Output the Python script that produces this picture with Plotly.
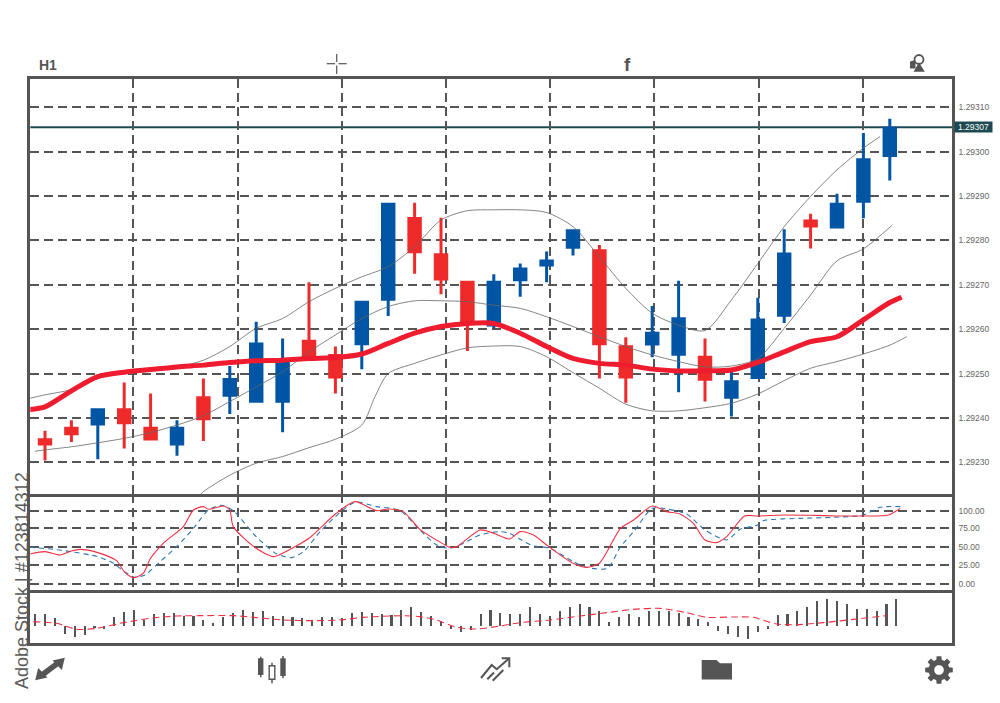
import math
import plotly.graph_objects as go

# prices are stored as points above 1.29 (235.4 -> 1.29235)
candle_open = [235.4, 238.0, 238.3, 242.2, 238.0, 233.8, 244.9, 244.8, 243.4, 243.4, 257.6, 254.4, 256.4, 266.4, 285.3, 277.1, 270.9,
               260.6, 270.8, 274.1, 278.1, 278.0, 256.4, 256.3, 254.0, 254.0, 244.3, 248.8, 262.8, 284.7, 282.7, 288.5, 298.8]
candle_high = [237.1, 239.5, 242.2, 248.0, 245.5, 239.5, 248.9, 251.7, 261.7, 257.9, 270.6, 256.1, 266.4, 288.5, 288.5, 285.1, 270.9,
               272.4, 274.8, 277.5, 282.5, 279.0, 258.2, 265.2, 270.9, 257.9, 250.4, 267.1, 282.5, 286.0, 290.5, 304.2, 307.4]
candle_low = [230.4, 234.6, 230.7, 233.1, 234.9, 231.5, 234.8, 240.9, 243.4, 236.8, 253.4, 245.5, 251.0, 263.0, 272.5, 267.9, 255.1,
              260.2, 267.3, 270.6, 276.6, 248.9, 243.4, 253.7, 245.8, 243.7, 240.3, 248.8, 261.4, 278.2, 282.7, 285.0, 293.5]
candle_close = [233.8, 236.1, 242.2, 238.6, 234.9, 238.0, 239.5, 249.0, 257.0, 253.0, 253.4, 248.9, 266.4, 288.5, 277.1, 271.0, 260.9,
                270.9, 273.9, 275.7, 282.5, 256.4, 248.9, 259.4, 262.7, 248.4, 248.5, 262.4, 277.3, 282.9, 288.5, 298.5, 305.6]

ma_x = [-0.6] + list(range(33)) + [32.45]
ma_y = [241.9, 242.5, 246.1, 249.3, 250.3, 250.9, 251.5, 251.9, 252.5, 252.9, 253.0, 253.4, 253.6, 254.4, 256.8, 259.1, 260.6, 261.3,
        261.3, 259.1, 256.1, 253.4, 252.3, 251.9, 251.0, 250.6, 250.6, 250.8, 252.5, 254.9, 257.2, 258.3, 262.1, 266.0, 267.2]

upper_x = [-0.6] + list(range(32)) + [31.63]
upper_y = [244.4, 245.2, 246.4, 248.9, 250.3, 250.9, 251.5, 253.0, 256.1, 260.2, 262.4, 266.2, 269.2, 271.8, 274.1, 278.6, 284.6, 286.7,
           286.9, 286.9, 286.3, 283.1, 276.3, 269.2, 263.6, 260.9, 259.7, 266.6, 274.8, 283.1, 289.9, 295.9, 300.8, 303.4]
mid_x = [-0.38] + list(range(32)) + [32.1]
mid_y = [232.5, 232.8, 233.5, 234.4, 235.4, 236.7, 238.4, 240.5, 243.7, 247.0, 250.4, 254.9, 258.7, 262.4, 265.1, 266.4, 266.4, 266.2,
         265.4, 264.7, 262.8, 260.6, 258.3, 256.1, 254.2, 252.7, 251.5, 251.7, 253.4, 260.2, 267.7, 275.4, 278.1, 283.5]
lower_x = [5.87] + list(range(6, 13)) + [12.5] + list(range(13, 33)) + [32.64]
lower_y = [222.6, 223.4, 227.1, 229.8, 231.3, 233.3, 235.2, 238.4, 244.8, 250.0, 252.3, 254.2, 255.8, 256.2, 256.1, 253.8, 250.2, 246.7, 243.1,
           241.6, 241.6, 242.3, 243.3, 245.4, 248.4, 251.2, 252.7, 254.4, 256.4, 258.3]

stoch_k_x = [-0.57, 0, 0.57, 1, 1.33, 2, 2.71, 3, 3.35, 3.72, 4, 4.48, 5.24, 5.62, 6, 6.19, 6.76, 7, 7.13, 8, 8.65, 9, 10, 11, 11.74,
             12.56, 13, 13.57, 14.2, 15, 15.34, 15.6, 16.48, 17, 17.6, 18, 18.5, 19, 20, 20.5, 21, 21.8, 22.3, 23, 23.55, 24.05, 24.56,
             25, 25.44, 25.82, 26.5, 27, 28, 29, 30, 31, 31.95, 32.4]
stoch_k = [40.2, 43.3, 38.8, 44.2, 46.4, 42, 31.2, 16.5, 8.5, 14.3, 34.4, 54.5, 76.8, 99.1, 103.6, 100, 104.5, 99.1, 76.8, 47.8, 36.6,
           41.1, 61.2, 93.7, 110.3, 98.2, 100.4, 96.9, 73.2, 55.4, 49.1, 50, 72.3, 67.9, 60.3, 70.1, 65.6, 52.2, 27.7, 22.3, 27.7, 74.5,
           85.7, 104.5, 96.9, 93.7, 81.2, 58.9, 55.4, 63.4, 91.1, 91.1, 92.4, 92, 91.1, 91.1, 92.4, 101.3]
stoch_d_x = [-0.57, 0.32, 1, 2, 2.59, 3, 3.41, 3.79, 4.36, 4.99, 5.62, 6.19, 6.69, 7.13, 8, 8.78, 9.34, 9.79, 10.42, 11, 11.74, 12.56,
             13.45, 14.2, 14.84, 15.34, 15.85, 16.48, 17.24, 17.6, 18, 18.5, 19.13, 20, 20.5, 21.3, 21.8, 22.3, 23, 23.55, 24.3, 25, 25.82,
             26.33, 27, 27.21, 28.6, 29.86, 31, 31.63, 32.4]
stoch_d = [49.1, 46.4, 43.3, 36.6, 27.7, 16.5, 8.9, 12.1, 29.9, 50, 74.5, 99.1, 105.4, 98.2, 63.4, 40.2, 35.3, 43.3, 70.1, 90.2, 109.4,
           103.6, 98.2, 72.3, 52.2, 47.8, 54.5, 65.6, 70.1, 67.9, 59.8, 50.9, 47.8, 29.9, 22.3, 21, 50, 70.1, 101.3, 100.4, 93.7, 72.3,
           58.9, 73.2, 79, 84.8, 87.9, 89.3, 92.4, 102.7, 103.6]

macd_hist = [36, 36, 23, -25, -32, -28, -7, -8, 28, 43, 48, 18, 36, 38, 40, 30, 30, 18, 8, 28, 40, 48, 43, 45, 30, 30, 28, 23, 16, 26,
             28, 23, 38, 41, 40, 36, 33, 48, 56, 41, 30, 16, -10, -17, -12, 36, 48, 38, 35, 36, 56, 36, 31, 46, 56, 66, 58, 44, 12, 28,
             36, 26, 46, 46, 46, 40, 28, 21, 12, -14, -24, -32, -40, -18, -10, 33, 36, 45, 56, 74, 80, 74, 66, 50, 50, 45, 65, 80]
macd_sig_x = [-0.44, 0.44, 1.2, 1.96, 2.84, 3.41, 4.17, 4.99, 5.87, 7.13, 7.89, 9.03, 10.16, 11.17, 12.06, 13.57, 14.2, 14.84, 15.6,
              16.35, 17.24, 17.99, 19.13, 20.27, 21.28, 22.29, 23.3, 24.3, 25.06, 26.07, 26.83, 27.71, 28.47, 29.48, 30.62, 31.88]
macd_sig = [13, 8, -10, -7, 8, 16, 25, 30, 31, 31, 26, 18, 16, 18, 26, 31, 28, 18, -4, -9, 0, 10, 18, 30, 40, 50, 53, 40, 26, 27, 26, 6,
            4, 10, 20, 31]

price_ticks = [1.2923, 1.2924, 1.2925, 1.2926, 1.2927, 1.2928, 1.2929, 1.2930, 1.2931]
stoch_ticks = [0, 25, 50, 75, 97.8]
stoch_labels = ["0.00", "25.00", "50.00", "75.00", "100.00"]
last_level = 305.5
last_label = "1.29307"

W, H = 1000, 703
GREY = "#555555"
RED = "#ee2b2a"
BLUE = "#0055a5"
WICK = 3
# the candle outline sits on the body edge, pull it in by half a stroke (in points)
inset = (WICK / 2) / 4.4375


def price(vals):
    return [1.29 + v * 1e-5 for v in vals]


def px(x):
    return x / W


def py(y):
    return 1 - y / H


def path(points, close=False):
    s = "M" + " L".join("{0:.5f},{1:.5f}".format(px(a), py(b)) for a, b in points)
    return s + " Z" if close else s


def poly(points, color=GREY):
    return dict(type="path", xref="paper", yref="paper", path=path(points, True), fillcolor=color, line_width=0)


def stroke(points, width=2, color=GREY):
    return dict(type="path", xref="paper", yref="paper", path=path(points), line=dict(color=color, width=width))


def gear(cx, cy, r_out, r_in, r_hole, teeth=8):
    pts = []
    for t in range(teeth):
        a = 2 * math.pi * t / teeth
        for da, r in [(-0.26, r_in), (-0.17, r_out), (0.17, r_out), (0.26, r_in)]:
            pts.append((cx + r * math.cos(a + da), cy + r * math.sin(a + da)))
    hole = [(cx + r_hole * math.cos(2 * math.pi * k / 24), cy + r_hole * math.sin(2 * math.pi * k / 24)) for k in range(24)]
    return dict(type="path", xref="paper", yref="paper", path=path(pts, True) + " " + path(hole, True),
                fillcolor=GREY, fillrule="evenodd", line_width=0)


fig = go.Figure()

for bx, by in [(upper_x, upper_y), (mid_x, mid_y), (lower_x, lower_y)]:
    fig.add_trace(go.Scatter(x=bx, y=price(by), mode="lines", line=dict(color="#666666", width=0.8, shape="spline", smoothing=0.8)))

drawn_open = [o + inset if c > o else o - inset for o, c in zip(candle_open, candle_close)]
drawn_close = [c - inset if c > o else c + inset for o, c in zip(candle_open, candle_close)]
fig.add_trace(go.Candlestick(x=list(range(33)), open=price(drawn_open), high=price(candle_high),
                             low=price(candle_low), close=price(drawn_close),
                             increasing=dict(line=dict(color=BLUE, width=WICK), fillcolor=BLUE),
                             decreasing=dict(line=dict(color=RED, width=WICK), fillcolor=RED)))

fig.add_trace(go.Scatter(x=ma_x, y=price(ma_y), mode="lines", line=dict(color="#ee1c2e", width=5, shape="spline", smoothing=0.8)))

fig.add_trace(go.Scatter(x=stoch_d_x, y=stoch_d, xaxis="x2", yaxis="y2", mode="lines",
                         line=dict(color="#2a76b8", width=1.1, dash="5px,4px", shape="spline", smoothing=0.7)))
fig.add_trace(go.Scatter(x=stoch_k_x, y=stoch_k, xaxis="x2", yaxis="y2", mode="lines",
                         line=dict(color="#f03040", width=1.1, shape="spline", smoothing=0.7)))

# 8 histogram bars for every 3 candles
macd_x = [-0.353 + 0.375 * j for j in range(len(macd_hist))]
fig.add_trace(go.Bar(x=macd_x, y=macd_hist, xaxis="x3", yaxis="y3", width=0.06, marker=dict(color=GREY, line_width=0)))
fig.add_trace(go.Scatter(x=macd_sig_x, y=macd_sig, xaxis="x3", yaxis="y3", mode="lines",
                         line=dict(color="#f03040", width=1.1, dash="7px,4px", shape="spline", smoothing=0.7)))

xrange = [-0.557, 34.36]
grid_x = [3.345 + 3.947 * k for k in range(8)]
axis_style = dict(linecolor=GREY, linewidth=2.5, zeroline=False, ticks="")
grid_style = dict(showgrid=True, gridcolor="#555555", gridwidth=1.6, griddash="9px,5px")
tick_font = dict(family="Liberation Sans", size=8.5, color="#666666")
x_dom = [px(30.3), px(952.1)]

fig.update_layout(
    width=W, height=H, margin=dict(l=0, r=0, t=0, b=0), paper_bgcolor="white", plot_bgcolor="white",
    showlegend=False, hovermode=False, bargap=0, boxgap=0.38,
    xaxis=dict(domain=x_dom, range=xrange, anchor="y", tickvals=grid_x, showticklabels=False, showline=True, mirror=True,
               rangeslider=dict(visible=False), **axis_style, **grid_style),
    xaxis2=dict(domain=x_dom, range=xrange, anchor="y2", tickvals=grid_x, showticklabels=False, showline=False, **axis_style, **grid_style),
    xaxis3=dict(domain=x_dom, range=xrange, anchor="y3", showticklabels=False, showgrid=False, showline=True, mirror=True, **axis_style),
    yaxis=dict(domain=[py(494), py(79)], range=[1.2922286, 1.2931638], anchor="x", side="right", tickvals=price_ticks,
               tickformat=".5f", tickfont=tick_font, showline=True, mirror=True, ticklabelstandoff=2, **axis_style, **grid_style),
    yaxis2=dict(domain=[py(590.4), py(494)], range=[-8.6, 120.5], anchor="x2", side="right", tickvals=stoch_ticks,
                ticktext=stoch_labels, tickfont=tick_font, showline=True, mirror=True, ticklabelstandoff=2, **axis_style, **grid_style),
    yaxis3=dict(domain=[py(643), py(593)], range=[-51, 99], anchor="x3", side="right", showticklabels=False, showgrid=False,
                showline=True, mirror=True, **axis_style),
    shapes=[
        dict(type="line", xref="x domain", yref="y", x0=0, x1=1, y0=1.29 + last_level * 1e-5, y1=1.29 + last_level * 1e-5,
             line=dict(color="#1d4a52", width=2), layer="below"),
        # crosshair
        stroke([(326.7, 63.7), (335, 63.7)], 1.2), stroke([(338.5, 63.7), (346.7, 63.7)], 1.2),
        stroke([(336.7, 54), (336.7, 62)], 1.2), stroke([(336.7, 65.5), (336.7, 74)], 1.2),
        # templates icon, top right
        poly([(910, 61.5), (915.5, 60), (915.5, 68.5), (910, 68.5)]),
        dict(type="circle", xref="paper", yref="paper", x0=px(914.5), x1=px(923.5), y0=py(55), y1=py(64),
             line=dict(color=GREY, width=1.8), fillcolor="white"),
        poly([(919, 62.5), (913.5, 71.8), (924.8, 71.8)]),
        # double headed arrow
        stroke([(41, 675.8), (59, 662.2)], 5.5),
        poly([(64.8, 657.8), (52.5, 660.5), (61.8, 670)]),
        poly([(35.2, 680.2), (47.5, 677.5), (38.2, 668)]),
        # candles icon
        stroke([(260.7, 656.7), (260.7, 677.3)], 1.5), poly([(258, 658.3), (263.4, 658.3), (263.4, 675), (258, 675)]),
        stroke([(272, 662.7), (272, 683.3)], 1.5),
        dict(type="rect", xref="paper", yref="paper", x0=px(269.2), x1=px(274.8), y0=py(665.7), y1=py(679.3),
             line=dict(color=GREY, width=1.4), fillcolor="white"),
        stroke([(283, 656), (283, 678.3)], 1.5), poly([(280.3, 658.3), (285.7, 658.3), (285.7, 676), (280.3, 676)]),
        # trend arrows icon
        stroke([(481, 678), (491.7, 665), (496.7, 669.3), (509, 658.5)], 2),
        stroke([(501.7, 658.3), (509.3, 658.3), (509.3, 667.3)], 2),
        stroke([(487.3, 679.3), (494, 672.5)], 2),
        stroke([(492.7, 680.7), (503.3, 670)], 2),
        # folder
        poly([(701.7, 660), (716.5, 660), (720, 663.3), (732, 663.3), (732, 679.5), (701.7, 679.5)]),
        # settings
        gear(939, 670, 14, 10.5, 4.8),
    ],
    annotations=[
        dict(xref="paper", yref="paper", x=px(37), y=py(64.5), text="<b>H1</b>", showarrow=False, xanchor="left", yanchor="middle",
             font=dict(family="Liberation Sans", size=14, color=GREY)),
        dict(xref="paper", yref="paper", x=px(627), y=py(64), text="<b>f</b>", showarrow=False, xanchor="center", yanchor="middle",
             font=dict(family="Liberation Sans", size=19, color=GREY)),
        dict(xref="paper", yref="y", x=px(973.5), y=1.29 + (last_level + 0.15) * 1e-5, text=last_label, showarrow=False, width=37, height=10,
             xanchor="center", yanchor="middle", bgcolor="#1d4a52", borderpad=0, font=dict(family="Liberation Sans", size=8.5, color="white")),
        dict(xref="paper", yref="paper", x=px(22), y=py(581), text="Adobe Stock | #123814312", showarrow=False, textangle=-90,
             xanchor="center", yanchor="middle", font=dict(family="Liberation Sans", size=18, color="#5a5a5a")),
    ],
)

fig.write_html("out.html", config={"displayModeBar": False}, post_script="document.body.style.margin='0';")
